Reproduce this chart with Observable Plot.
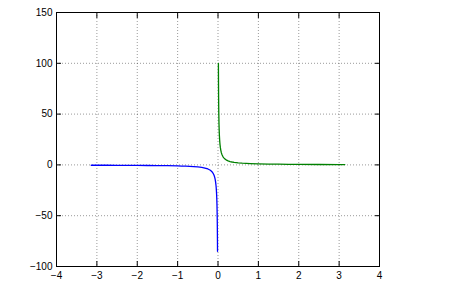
<!DOCTYPE html>
<html>
<head>
<meta charset="utf-8">
<script src="https://cdn.jsdelivr.net/npm/d3@7"></script>
<script src="https://cdn.jsdelivr.net/npm/@observablehq/plot@0.6"></script>
<style>
  html, body { margin: 0; padding: 0; background: #fff; }
  svg { display: block; }
</style>
</head>
<body>
<div id="chart"></div>
<script>
const xTicks = [-4, -3, -2, -1, 0, 1, 2, 3, 4];
const yTicks = [-100, -50, 0, 50, 100, 150];

const blueX = [-3.14,-3,-2.75,-2.5,-2.25,-2,-1.75,-1.5,-1.25,-1,-0.9,-0.8,-0.7,-0.6,-0.5,-0.45,-0.4,-0.35,-0.3,-0.25,-0.2,-0.175,-0.15,-0.125,-0.1,-0.09,-0.08,-0.07,-0.06,-0.05,-0.045,-0.04,-0.035,-0.03,-0.025,-0.02,-0.0175,-0.015,-0.0135,-0.0118];
const blueY = [-0.32,-0.33,-0.36,-0.4,-0.44,-0.5,-0.57,-0.67,-0.8,-1,-1.11,-1.25,-1.43,-1.67,-2,-2.22,-2.5,-2.86,-3.33,-4,-5,-5.71,-6.67,-8,-10,-11.1,-12.5,-14.3,-16.7,-20,-22.2,-25,-28.6,-33.3,-40,-50,-57.1,-66.7,-74.1,-85];

const greenX = [0.01,0.0125,0.015,0.0175,0.02,0.025,0.03,0.035,0.04,0.045,0.05,0.06,0.07,0.08,0.09,0.1,0.125,0.15,0.175,0.2,0.25,0.3,0.35,0.4,0.5,0.6,0.7,0.8,1,1.25,1.5,1.75,2,2.5,3,3.14];
const greenY = [100,80,66.7,57.1,50,40,33.3,28.6,25,22.2,20,16.7,14.3,12.5,11.1,10,8,6.67,5.71,5,4,3.33,2.86,2.5,2,1.67,1.43,1.25,1,0.8,0.67,0.57,0.5,0.4,0.33,0.32];

const blue = blueX.map((x, i) => ({x, y: blueY[i]}));
const green = greenX.map((x, i) => ({x, y: greenY[i]}));

const grid = {stroke: "#000", strokeOpacity: 0.4, strokeDasharray: "1,2"};
const font = "Liberation Sans, Arial, Helvetica, sans-serif";

const chart = Plot.plot({
  width: 474,
  height: 303,
  marginLeft: 56,
  marginRight: 95,
  marginTop: 12,
  marginBottom: 37,
  style: {fontFamily: font, fontSize: "10px", background: "#fff", color: "#000"},
  x: {domain: [-4, 4]},
  y: {domain: [-100, 150]},
  marks: [
    Plot.gridX(xTicks.slice(1, -1), grid),
    Plot.gridY(yTicks.slice(1, -1), grid),
    Plot.line(blue, {x: "x", y: "y", stroke: "#0000ff", strokeWidth: 1.3}),
    Plot.line(green, {x: "x", y: "y", stroke: "#008000", strokeWidth: 1.3}),
    Plot.axisX(xTicks, {anchor: "bottom", tickSize: -5, tickPadding: 10, label: null, fontSize: 10}),
    Plot.axisX(xTicks, {anchor: "top", tickSize: -5, tickFormat: () => "", label: null}),
    Plot.axisY(yTicks, {anchor: "left", tickSize: -5, tickPadding: 9, label: null, fontSize: 10}),
    Plot.axisY(yTicks, {anchor: "right", tickSize: -5, tickFormat: () => "", label: null}),
    Plot.frame({stroke: "#000", strokeWidth: 1})
  ]
});
document.getElementById("chart").appendChild(chart);
</script>
</body>
</html>
